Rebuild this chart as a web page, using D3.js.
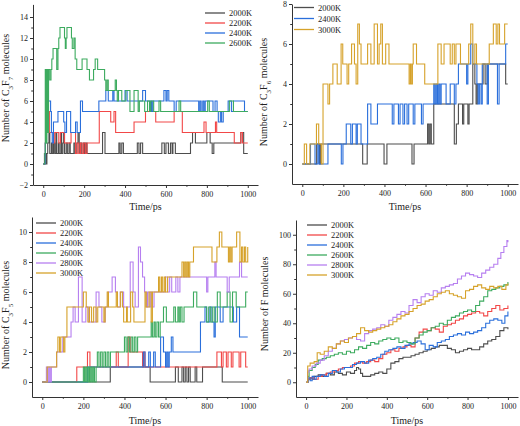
<!DOCTYPE html>
<html lang="en">
<head>
<meta charset="UTF-8" />
<title>Molecule counts vs time</title>
<script src="https://cdn.jsdelivr.net/npm/d3@7"></script>
<style>
  body { margin: 0; background: #fff; }
  text { font-family: "Liberation Serif", "Times New Roman", serif; fill: #222; }
  .tick text { font-size: 8px; }
  .axis path, .axis line { stroke: #333; }
</style>
</head>
<body>
<svg id="chart" width="520" height="426"></svg>
<script>
// ---- data: [time(ps), count] step points ----
var timeTicks = [0, 200, 400, 600, 800, 1000];
var timeMinor = [100, 300, 500, 700, 900];

// panel a: C3F7
var c3f7_2000 = [[0,0],[6,1],[14,0],[18,1],[22,2],[28,3],[32,1],[40,2],[44,1],[50,2],[56,1],[62,3],[66,1],[74,2],[78,1],[86,3],[90,1],[96,2],[100,3],[104,1],[112,2],[118,1],[126,2],[132,1],[150,2],[156,1],[164,2],[170,3],[176,1],[182,2],[188,1],[196,2],[202,1],[208,2],[214,1],[290,3],[302,1],[370,2],[376,1],[384,2],[392,1],[460,2],[468,1],[476,2],[486,1],[580,2],[592,1],[600,2],[612,1],[622,2],[630,1],[634,2],[646,1],[720,2],[730,3],[744,2],[800,3],[816,2],[826,1],[834,2],[966,3],[980,1],[1000,1]];
var c3f7_2200 = [[0,0],[10,2],[14,5],[20,3],[26,5],[30,3],[44,3],[50,2],[56,3],[76,2],[84,3],[104,2],[136,3],[158,1],[166,2],[174,1],[182,2],[190,1],[198,2],[206,1],[214,2],[274,5],[330,4],[346,5],[354,3],[444,4],[500,5],[550,4],[640,5],[680,3],[786,4],[796,3],[842,4],[848,3],[934,2],[960,2],[966,3],[974,2],[1000,2]];
var c3f7_2400 = [[0,0],[10,2],[14,6],[36,5],[40,3],[44,2],[50,4],[72,5],[100,4],[106,3],[114,5],[134,3],[158,4],[166,3],[182,6],[192,5],[272,6],[306,7],[318,6],[340,7],[346,6],[400,7],[410,6],[486,7],[500,6],[520,5],[526,6],[530,5],[536,6],[590,7],[600,6],[606,7],[614,6],[640,5],[650,6],[760,5],[766,6],[772,5],[780,6],[786,5],[792,6],[830,5],[840,6],[850,5],[856,4],[866,5],[872,4],[880,5],[904,6],[920,5],[930,6],[984,5],[1000,5]];
var c3f7_2600 = [[0,0],[8,1],[10,9],[14,2],[18,9],[22,3],[26,9],[32,8],[38,9],[42,10],[48,11],[62,11],[66,9],[72,11],[76,12],[82,13],[100,13],[104,12],[108,11],[112,12],[116,13],[134,13],[138,12],[142,11],[150,12],[156,10],[164,9],[190,10],[214,9],[226,8],[246,9],[254,10],[266,9],[300,8],[306,7],[312,8],[318,7],[348,7],[352,8],[358,7],[362,6],[368,7],[384,6],[404,7],[424,5],[444,7],[464,5],[470,6],[496,5],[510,6],[520,5],[526,6],[540,5],[566,6],[574,5],[664,6],[672,5],[804,6],[812,5],[910,6],[930,5],[1000,5]];

// panel b: C3F6
var c3f6_2000 = [[0,0],[70,1],[84,0],[90,1],[294,0],[316,1],[398,0],[412,1],[534,0],[544,1],[610,2],[616,1],[622,2],[628,1],[640,3],[740,1],[750,2],[760,3],[780,2],[786,3],[806,2],[812,3],[830,5],[840,4],[846,3],[852,4],[880,5],[890,4],[900,5],[990,4],[1000,4]];
var c3f6_2400 = [[0,0],[40,1],[62,0],[76,1],[82,0],[125,1],[190,0],[198,1],[214,2],[236,1],[244,2],[262,1],[268,2],[286,1],[318,3],[334,2],[366,3],[438,2],[446,3],[468,2],[476,3],[490,2],[498,3],[510,2],[518,3],[540,2],[548,3],[580,2],[588,3],[640,4],[646,3],[652,4],[658,3],[664,4],[670,3],[676,4],[700,3],[720,4],[740,3],[748,4],[760,5],[800,4],[806,5],[820,6],[830,5],[850,4],[856,3],[862,4],[870,3],[876,5],[900,3],[906,5],[950,3],[958,5],[980,5],[990,6],[1000,6]];
var c3f6_3000 = [[0,0],[10,1],[21,0],[37,1],[69,2],[80,1],[93,0],[101,4],[125,3],[133,4],[149,5],[170,4],[189,6],[197,5],[218,4],[226,5],[240,6],[254,5],[262,4],[270,7],[278,6],[286,5],[318,6],[334,5],[350,7],[366,5],[374,6],[382,7],[390,5],[406,6],[422,5],[520,4],[526,5],[530,4],[536,5],[540,6],[556,5],[596,4],[660,6],[676,5],[690,6],[720,5],[730,6],[740,5],[748,6],[770,5],[810,6],[820,7],[830,5],[840,6],[848,5],[910,6],[930,7],[944,6],[952,7],[960,6],[985,7],[1000,7]];

// panel c: C3F5
var c3f5_2000 = [[0,0],[331,1],[525,0],[648,1],[662,0],[680,1],[688,0],[696,1],[704,0],[712,1],[720,0],[744,1],[752,0],[780,1],[876,0],[1000,0]];
var c3f5_2200 = [[0,0],[168,1],[220,2],[232,1],[360,2],[370,1],[418,3],[428,2],[488,1],[494,2],[500,1],[850,2],[872,1],[880,2],[896,1],[904,2],[920,1],[928,2],[958,1],[966,2],[990,1],[1000,1]];
var c3f5_2400 = [[0,0],[221,1],[492,2],[500,1],[518,2],[526,1],[542,2],[550,1],[576,3],[590,2],[600,1],[606,2],[612,1],[618,2],[628,3],[636,2],[770,4],[792,5],[800,4],[816,5],[826,4],[836,3],[842,5],[866,4],[880,5],[930,4],[946,5],[960,3],[1000,3]];
var c3f5_2600 = [[0,0],[200,1],[206,0],[212,1],[218,0],[224,1],[230,0],[236,1],[242,0],[248,1],[254,0],[262,1],[268,2],[276,1],[284,2],[292,1],[300,2],[308,1],[316,2],[324,1],[332,2],[400,3],[408,2],[416,3],[424,2],[432,3],[440,2],[448,3],[456,2],[464,3],[530,4],[536,3],[544,4],[550,3],[558,4],[566,3],[574,4],[590,5],[604,4],[640,5],[648,4],[660,5],[666,4],[672,5],[680,4],[690,5],[736,6],[752,5],[800,4],[810,5],[820,4],[830,5],[840,4],[852,6],[866,5],[900,6],[914,4],[926,6],[944,5],[990,6],[1000,6]];
var c3f5_2800 = [[0,0],[20,1],[26,0],[32,1],[38,0],[44,1],[70,2],[100,3],[140,4],[150,5],[160,4],[176,7],[194,4],[212,5],[226,4],[262,6],[276,5],[290,4],[306,5],[320,6],[340,7],[356,6],[366,5],[380,6],[396,5],[428,8],[442,6],[452,5],[468,9],[478,8],[488,7],[498,6],[506,5],[512,6],[520,5],[528,6],[536,5],[544,6],[600,7],[610,6],[620,7],[630,6],[650,7],[660,6],[670,7],[800,6],[806,7],[840,8],[846,7],[900,6],[910,7],[960,8],[970,7],[1000,7]];
var c3f5_3000 = [[0,0],[24,1],[70,2],[76,3],[84,2],[90,3],[104,2],[110,3],[120,5],[200,6],[214,5],[222,4],[230,5],[240,4],[250,5],[262,4],[270,5],[300,4],[306,5],[316,6],[322,5],[360,6],[366,5],[380,6],[390,5],[396,4],[410,5],[414,4],[430,6],[440,5],[446,4],[500,6],[506,5],[520,6],[530,4],[536,6],[566,7],[572,6],[580,7],[586,6],[594,7],[600,6],[610,7],[680,8],[688,7],[694,8],[700,7],[706,8],[712,7],[718,8],[736,9],[826,8],[850,9],[862,10],[874,9],[906,8],[912,9],[918,8],[924,9],[946,10],[962,8],[970,9],[976,8],[984,9],[990,8],[1000,9]];

// panel d: F
var f_2000 = [[0,0],[10,2],[20,3],[30,2],[40,4],[60,5],[80,4],[100,6],[120,5],[140,7],[160,6],[180,5],[200,7],[220,6],[240,8],[250,10],[260,9],[270,6],[280,4],[300,4],[320,5],[340,6],[360,7],[380,6],[400,9],[420,13],[440,14],[460,16],[480,17],[500,17],[520,18],[540,19],[560,20],[580,21],[600,22],[620,23],[640,24],[660,25],[680,25],[700,23],[720,22],[740,20],[760,21],[780,22],[800,23],[820,22],[840,22],[860,24],[880,26],[900,28],[920,29],[940,31],[960,35],[980,37],[1000,36]];
var f_2200 = [[0,0],[10,2],[20,3],[40,2],[60,4],[80,5],[100,6],[120,7],[140,8],[160,9],[180,10],[220,11],[240,13],[260,14],[280,13],[300,14],[320,15],[340,14],[360,16],[380,19],[400,20],[420,22],[440,21],[460,23],[480,24],[500,25],[520,24],[540,30],[560,34],[580,36],[600,35],[620,37],[640,36],[660,34],[680,38],[700,39],[720,40],[740,42],[760,43],[780,45],[800,46],[820,47],[840,48],[860,47],[880,45],[900,48],[920,50],[940,52],[960,49],[980,50],[1000,52]];
var f_2400 = [[0,0],[10,3],[20,1],[30,4],[40,2],[50,4],[70,5],[90,4],[110,6],[130,8],[150,7],[170,9],[190,10],[230,12],[250,13],[270,14],[290,13],[310,15],[330,16],[350,17],[370,19],[390,21],[410,22],[430,23],[450,24],[470,23],[490,25],[510,26],[530,27],[550,28],[570,26],[590,22],[610,25],[630,24],[650,27],[670,28],[690,29],[710,31],[730,32],[750,33],[770,32],[790,34],[810,33],[830,34],[850,35],[870,37],[890,40],[910,42],[930,43],[950,42],[970,40],[985,45],[1000,48]];
var f_2600 = [[0,0],[8,4],[15,8],[30,10],[45,12],[60,15],[80,16],[100,17],[120,18],[140,19],[160,20],[180,19],[200,21],[220,20],[240,22],[260,24],[280,23],[300,25],[320,27],[340,26],[360,28],[380,29],[400,30],[420,29],[440,30],[460,27],[480,28],[500,27],[520,26],[540,30],[560,32],[580,34],[600,35],[620,37],[640,38],[660,40],[680,39],[700,42],[720,44],[740,45],[760,47],[780,48],[800,49],[820,48],[840,52],[860,55],[880,58],[900,62],[920,63],[940,64],[960,65],[980,66],[1000,68]];
var f_2800 = [[0,0],[8,7],[15,9],[30,11],[50,13],[70,15],[90,18],[110,21],[130,23],[150,26],[170,28],[190,29],[210,30],[230,31],[250,29],[270,28],[290,33],[310,35],[330,36],[350,37],[370,39],[390,38],[410,42],[430,44],[450,46],[470,48],[490,47],[510,52],[530,56],[550,54],[570,58],[590,60],[610,59],[630,62],[650,61],[670,64],[690,65],[710,66],[730,67],[750,70],[770,72],[790,74],[810,73],[830,72],[850,71],[870,74],[890,76],[910,78],[930,80],[950,84],[965,88],[980,92],[995,96],[1000,95]];
var f_3000 = [[0,0],[8,11],[20,13],[40,14],[55,20],[70,19],[90,21],[110,24],[130,23],[150,26],[170,28],[190,27],[210,30],[230,31],[250,33],[270,37],[290,35],[310,34],[330,35],[350,36],[370,37],[390,38],[410,39],[430,41],[450,43],[470,45],[490,46],[510,48],[530,50],[550,52],[570,53],[590,55],[610,56],[630,58],[650,60],[670,61],[690,62],[710,60],[730,59],[750,58],[770,57],[790,62],[810,63],[830,65],[850,66],[870,64],[890,63],[910,65],[930,64],[950,65],[970,63],[990,66],[1000,67]];

var colorOf = {
  "2000K": "#4d4d4d",
  "2200K": "#f24848",
  "2400K": "#2a6fdb",
  "2600K": "#3dab5f",
  "2800K": "#b67ff0",
  "3000K": "#d6a22a"
};

var svg = d3.select("#chart");
svg.append("rect").attr("width", 520).attr("height", 426).attr("fill", "#fff");

var panels = [
  { x0: 33, x1: 258, y0: 4.4, y1: 185, yDom: [-2, 15.2], yTicks: [-2,0,2,4,6,8,10,12,14], yMinor: [-1,1,3,5,7,9,11,13],
    sub: ["3","7"], labelX: 9, labelY: 88, xLabelY: 210,
    legend: { x: 205, y: 13, dy: 10 },
    series: [["2000K", c3f7_2000], ["2200K", c3f7_2200], ["2400K", c3f7_2400], ["2600K", c3f7_2600]] },
  { x0: 292, x1: 518, y0: 4, y1: 184, yDom: [-1, 8], yTicks: [0,2,4,6,8], yMinor: [1,3,5,7],
    sub: ["3","6"], labelX: 267, labelY: 92, xLabelY: 210,
    legend: { x: 294, y: 7.5, dy: 11 },
    series: [["2000K", c3f6_2000], ["2400K", c3f6_2400], ["3000K", c3f6_3000]] },
  { x0: 32, x1: 258, y0: 217, y1: 397, yDom: [-1, 11], yTicks: [0,2,4,6,8,10], yMinor: [1,3,5,7,9],
    sub: ["3","5"], labelX: 9, labelY: 315, xLabelY: 424,
    legend: { x: 36, y: 223, dy: 10 },
    series: [["2000K", c3f5_2000], ["2200K", c3f5_2200], ["2400K", c3f5_2400], ["2600K", c3f5_2600], ["2800K", c3f5_2800], ["3000K", c3f5_3000]] },
  { x0: 296, x1: 518, y0: 220, y1: 397, yDom: [-10, 110], yTicks: [0,20,40,60,80,100], yMinor: [10,30,50,70,90],
    sub: null, labelX: 268, labelY: 304, xLabelY: 424,
    legend: { x: 307, y: 225, dy: 10 },
    series: [["2000K", f_2000], ["2200K", f_2200], ["2400K", f_2400], ["2600K", f_2600], ["2800K", f_2800], ["3000K", f_3000]] }
];

// bottom panels cover the lower edge of the top x labels, like in the figure
function drawPanel(p, i) {
  var g = svg.append("g");
  if (i >= 2) {
    g.append("rect").attr("x", i == 2 ? 0 : 260).attr("y", 212).attr("width", 260).attr("height", 214).attr("fill", "#fff");
  }
  var x = d3.scaleLinear().domain([-50, 1050]).range([p.x0, p.x1]);
  var y = d3.scaleLinear().domain(p.yDom).range([p.y1, p.y0]);

  var line = d3.line()
    .x(function(d) { return x(d[0]); })
    .y(function(d) { return y(d[1]); })
    .curve(d3.curveStepAfter);

  p.series.forEach(function(s) {
    g.append("path")
      .datum(s[1])
      .attr("fill", "none")
      .attr("stroke", colorOf[s[0]])
      .attr("stroke-width", 1.1)
      .attr("d", line);
  });

  g.append("g").attr("class", "axis")
    .attr("transform", "translate(0," + p.y1 + ")")
    .call(d3.axisBottom(x).tickValues(timeTicks).tickSize(3).tickSizeOuter(0).tickPadding(3).tickFormat(d3.format("d")));
  g.append("g").attr("class", "axis")
    .attr("transform", "translate(0," + p.y1 + ")")
    .call(d3.axisBottom(x).tickValues(timeMinor).tickSize(1.8).tickSizeOuter(0).tickFormat(""))
    .select(".domain").remove();

  g.append("g").attr("class", "axis")
    .attr("transform", "translate(" + p.x0 + ",0)")
    .call(d3.axisLeft(y).tickValues(p.yTicks).tickSize(3).tickSizeOuter(0).tickPadding(2)
      .tickFormat(function(d) { return d < 0 ? "\u2212" + Math.abs(d) : d; }));
  g.append("g").attr("class", "axis")
    .attr("transform", "translate(" + p.x0 + ",0)")
    .call(d3.axisLeft(y).tickValues(p.yMinor).tickSize(1.8).tickSizeOuter(0).tickFormat(""))
    .select(".domain").remove();

  g.append("text")
    .attr("x", (x(0) + x(1000)) / 2)
    .attr("y", p.xLabelY)
    .attr("text-anchor", "middle")
    .attr("font-size", 10)
    .text("Time/ps");

  var yl = g.append("text")
    .attr("transform", "translate(" + p.labelX + "," + p.labelY + ")rotate(-90)")
    .attr("text-anchor", "middle")
    .attr("font-size", 10);
  if (p.sub) {
    yl.append("tspan").text("Number of C");
    yl.append("tspan").attr("baseline-shift", "sub").attr("font-size", 7).text(p.sub[0]);
    yl.append("tspan").text("F");
    yl.append("tspan").attr("baseline-shift", "sub").attr("font-size", 7).text(p.sub[1]);
    yl.append("tspan").text(" molecules");
  } else {
    yl.text("Number of F molecules");
  }

  var lg = g.append("g").attr("transform", "translate(" + p.legend.x + "," + p.legend.y + ")");
  p.series.forEach(function(s, k) {
    lg.append("line")
      .attr("x1", 0).attr("x2", 20)
      .attr("y1", k * p.legend.dy).attr("y2", k * p.legend.dy)
      .attr("stroke", colorOf[s[0]]).attr("stroke-width", 1.3);
    lg.append("text")
      .attr("x", 24).attr("y", k * p.legend.dy + 3)
      .attr("font-size", 8.5)
      .text(s[0]);
  });
}

panels.forEach(drawPanel);
</script>
</body>
</html>
